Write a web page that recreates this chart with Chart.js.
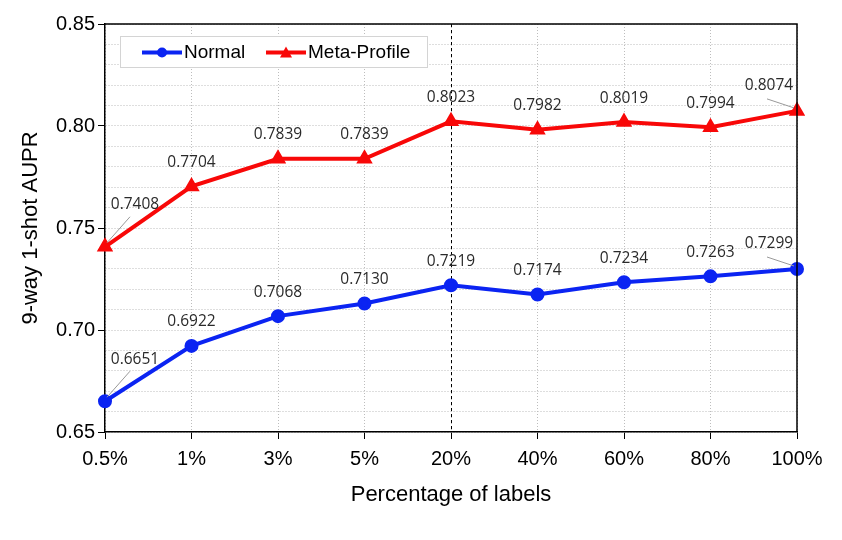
<!DOCTYPE html>
<html><head><meta charset="utf-8">
<script src="https://cdn.jsdelivr.net/npm/chart.js@4"></script>
<style>html,body{margin:0;padding:0;background:#fff}#wrap{width:842px;height:540px}</style>
</head><body><div id="wrap"><canvas id="c" width="842" height="540"></canvas></div>
<script>
const categories = ['0.5%','1%','3%','5%','20%','40%','60%','80%','100%'];
const normalValues = [0.6651,0.6922,0.7068,0.7130,0.7219,0.7174,0.7234,0.7263,0.7299];
const metaValues = [0.7408,0.7704,0.7839,0.7839,0.8023,0.7982,0.8019,0.7994,0.8074];
const seriesNames = ['Normal','Meta-Profile'];
const yTitle = '9-way 1-shot AUPR';
const xTitle = 'Percentage of labels';
const markerCategory = '20%';

const BLUE = '#0b24f2', RED = '#f80808';
const AX_FONT = '"Liberation Sans", Arial, sans-serif';

const overlay = {
  id: 'overlay',
  beforeDatasetsDraw(chart) {
    const ctx = chart.ctx, x = chart.scales.x, a = chart.chartArea;
    const px = Math.round(x.getPixelForValue(categories.indexOf(markerCategory))) + 0.5;
    ctx.save();
    ctx.strokeStyle = '#000'; ctx.lineWidth = 1; ctx.setLineDash([3,3]);
    ctx.beginPath(); ctx.moveTo(px, a.top); ctx.lineTo(px, a.bottom); ctx.stroke();
    ctx.restore();
  },
  afterDraw(chart) {
    const ctx = chart.ctx, a = chart.chartArea;
    ctx.save();
    ctx.strokeStyle = '#000'; ctx.lineWidth = 1.5;
    ctx.beginPath(); ctx.moveTo(a.left, a.top); ctx.lineTo(a.right, a.top); ctx.lineTo(a.right, a.bottom); ctx.stroke();
    ctx.font = '15.5px "Open Sans", "DejaVu Sans", sans-serif';
    ctx.fillStyle = '#2a2a2a'; ctx.textAlign = 'center'; ctx.textBaseline = 'middle';
    chart.data.datasets.forEach((ds, di) => {
      const meta = chart.getDatasetMeta(di);
      const n = meta.data.length;
      meta.data.forEach((pt, i) => {
        let lx = pt.x, ly = pt.y - 24;
        if (i === 0) {
          lx = pt.x + 30; ly = pt.y - 42;
          ctx.strokeStyle = '#999'; ctx.lineWidth = 1;
          ctx.beginPath(); ctx.moveTo(pt.x + 2, pt.y - 4); ctx.lineTo(pt.x + 25, pt.y - 30); ctx.stroke();
        } else if (i === n - 1) {
          lx = pt.x - 28; ly = pt.y - 25;
          ctx.strokeStyle = '#999'; ctx.lineWidth = 1;
          ctx.beginPath(); ctx.moveTo(pt.x - 3, pt.y - 3); ctx.lineTo(pt.x - 30, pt.y - 12); ctx.stroke();
        }
        ctx.fillText(ds.data[i].toFixed(4), lx, ly);
      });
    });
    const bx = 120, by = 36, bw = 307, bh = 31;
    ctx.fillStyle = '#fff'; ctx.fillRect(bx, by, bw, bh);
    ctx.strokeStyle = '#d4d4d4'; ctx.lineWidth = 1; ctx.setLineDash([]);
    ctx.strokeRect(bx + 0.5, by + 0.5, bw, bh);
    ctx.font = '19px ' + AX_FONT;
    ctx.textAlign = 'left';
    const cy = by + bh / 2 + 1;
    const items = [{x:142, c:BLUE, s:'circle'}, {x:266, c:RED, s:'triangle'}];
    chart.data.datasets.forEach((ds, di) => {
      const it = items[di];
      ctx.strokeStyle = it.c; ctx.lineWidth = 4;
      ctx.beginPath(); ctx.moveTo(it.x, cy); ctx.lineTo(it.x + 40, cy); ctx.stroke();
      ctx.fillStyle = it.c;
      if (it.s === 'circle') { ctx.beginPath(); ctx.arc(it.x + 20, cy, 5, 0, Math.PI*2); ctx.fill(); }
      else { ctx.beginPath(); ctx.moveTo(it.x+20, cy-6); ctx.lineTo(it.x+26, cy+5); ctx.lineTo(it.x+14, cy+5); ctx.closePath(); ctx.fill(); }
      ctx.fillStyle = '#000';
      ctx.fillText(ds.label, it.x + 42, cy);
    });
    ctx.restore();
  }
};

new Chart(document.getElementById('c'), {
  type: 'line',
  data: {
    labels: categories,
    datasets: [
      { label: seriesNames[0], data: normalValues, borderColor: BLUE, backgroundColor: BLUE,
        borderWidth: 4, pointStyle: 'circle', pointRadius: 5, tension: 0 },
      { label: seriesNames[1], data: metaValues, borderColor: RED, backgroundColor: RED,
        borderWidth: 4, pointStyle: 'triangle', pointRadius: 5.5, tension: 0 }
    ]
  },
  options: {
    responsive: false, animation: false,
    layout: { padding: { left: 14, right: 45, top: 24, bottom: 28 } },
    plugins: { legend: { display: false }, tooltip: { enabled: false } },
    scales: {
      x: {
        offset: false,
        afterFit(s) { s.height = 80; },
        ticks: { color: '#000', font: { size: 20, family: AX_FONT }, padding: 8 },
        grid: { color: '#bdbdbd', lineWidth: 1, drawTicks: true, tickLength: 7, tickColor: '#000', tickBorderDash: [] },
        border: { display: true, color: '#000', width: 1.5, dash: [1,2] },
        title: { display: true, text: xTitle, color: '#000', font: { size: 22, family: AX_FONT }, padding: { top: 4, bottom: 4 } }
      },
      y: {
        min: 0.65, max: 0.85,
        afterFit(s) { s.width = 91; },
        ticks: {
          stepSize: 0.01, autoSkip: false, color: '#000',
          font: { size: 20, family: AX_FONT }, padding: 3,
          callback(v) { const r = Math.round(v * 100); return r % 5 === 0 ? (r / 100).toFixed(2) : ''; }
        },
        grid: {
          color: '#bdbdbd', lineWidth: 1, drawTicks: true, tickLength: 7, tickBorderDash: [],
          tickColor(c) { const r = Math.round(c.tick.value * 100); return r % 5 === 0 ? '#000' : 'rgba(0,0,0,0)'; }
        },
        border: { display: true, color: '#000', width: 1.5, dash: [1,2] },
        title: { display: true, text: yTitle, color: '#000', font: { size: 22, family: AX_FONT }, padding: { top: 4, bottom: 4 } }
      }
    }
  },
  plugins: [overlay]
});
</script></body></html>
